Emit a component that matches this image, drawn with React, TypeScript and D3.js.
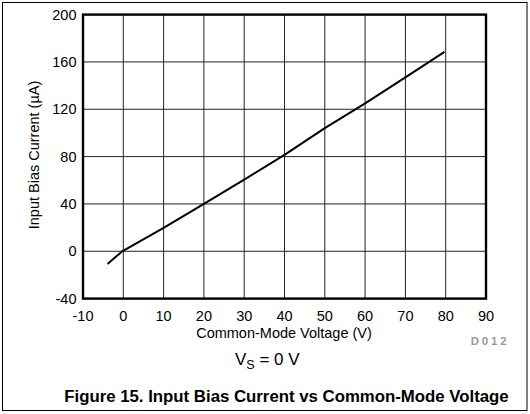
import React from 'react';
import * as d3 from 'd3';

// Common-mode voltage (V) and input bias current (uA)
const voltage = [-3.9, -2, -0.8, -0.2, 0.6, 10, 20, 30, 40, 50, 60, 70, 79.7];
const biasCurrent = [-10.7, -5.1, -1.6, 0.2, 1.7, 19.8, 40, 60.5, 81.5, 104, 125, 147, 168.5];

const xTicks = [-10, 0, 10, 20, 30, 40, 50, 60, 70, 80, 90];
const yTicks = [-40, 0, 40, 80, 120, 160, 200];

const FONT = 'Arial, "Liberation Sans", sans-serif';

const App: React.FC = () => {
  const width = 530;
  const height = 414;

  const x = d3.scaleLinear().domain([-10, 90]).range([83, 486]);
  const y = d3.scaleLinear().domain([-40, 200]).range([298.6, 14.6]);

  const points = voltage.map((v, i) => [v, biasCurrent[i]] as [number, number]);
  const line = d3.line<[number, number]>()
    .x(d => x(d[0]))
    .y(d => y(d[1]));

  return (
    <svg
      width={width}
      height={height}
      style={{ position: 'absolute', left: 0, top: 0, display: 'block', background: '#fff' }}
    >
      {/* outer frame */}
      <rect x={2.5} y={2.5} width={524.5} height={408} fill="none" stroke="#000" strokeWidth={1} />

      {/* grid */}
      {xTicks.map(t => (
        <line key={'gx' + t} x1={x(t)} x2={x(t)} y1={y(200)} y2={y(-40)} stroke="#222" strokeWidth={1} />
      ))}
      {yTicks.map(t => (
        <line key={'gy' + t} x1={x(-10)} x2={x(90)} y1={y(t)} y2={y(t)} stroke="#222" strokeWidth={1} />
      ))}

      {/* plot border */}
      <rect
        x={x(-10)}
        y={y(200)}
        width={x(90) - x(-10)}
        height={y(-40) - y(200)}
        fill="none"
        stroke="#000"
        strokeWidth={2.4}
      />

      {/* curve */}
      <path d={line(points) || ''} fill="none" stroke="#000" strokeWidth={2} strokeLinejoin="round" />

      {/* tick labels */}
      {xTicks.map(t => (
        <text key={'tx' + t} x={x(t)} y={321} textAnchor="middle" fontFamily={FONT} fontSize={14.5} fill="#000">
          {t}
        </text>
      ))}
      {yTicks.map(t => (
        <text key={'ty' + t} x={76.5} y={y(t) + 5.2} textAnchor="end" fontFamily={FONT} fontSize={14.5} fill="#000">
          {t}
        </text>
      ))}

      {/* axis titles */}
      <text x={284} y={338.3} textAnchor="middle" fontFamily={FONT} fontSize={14.5} fill="#000">
        Common-Mode Voltage (V)
      </text>
      <text
        transform="translate(39,155) rotate(-90)"
        textAnchor="middle"
        fontFamily={FONT}
        fontSize={14.5}
        fill="#000"
      >
        Input Bias Current (µA)
      </text>

      <text x={470.7} y={344.5} fontFamily={FONT} fontSize={11.5} fontWeight="bold" fill="#999" letterSpacing={2.8}>
        D012
      </text>

      <text x={235} y={365} fontFamily={FONT} fontSize={17} fill="#000">
        V<tspan fontSize={12.5} dy={3.5}>S</tspan>
        <tspan dy={-3.5}> = 0 V</tspan>
      </text>

      <text x={286.5} y={401.7} textAnchor="middle" fontFamily={FONT} fontSize={16.8} fontWeight="bold" fill="#000">
        Figure 15. Input Bias Current vs Common-Mode Voltage
      </text>
    </svg>
  );
};

export default App;
